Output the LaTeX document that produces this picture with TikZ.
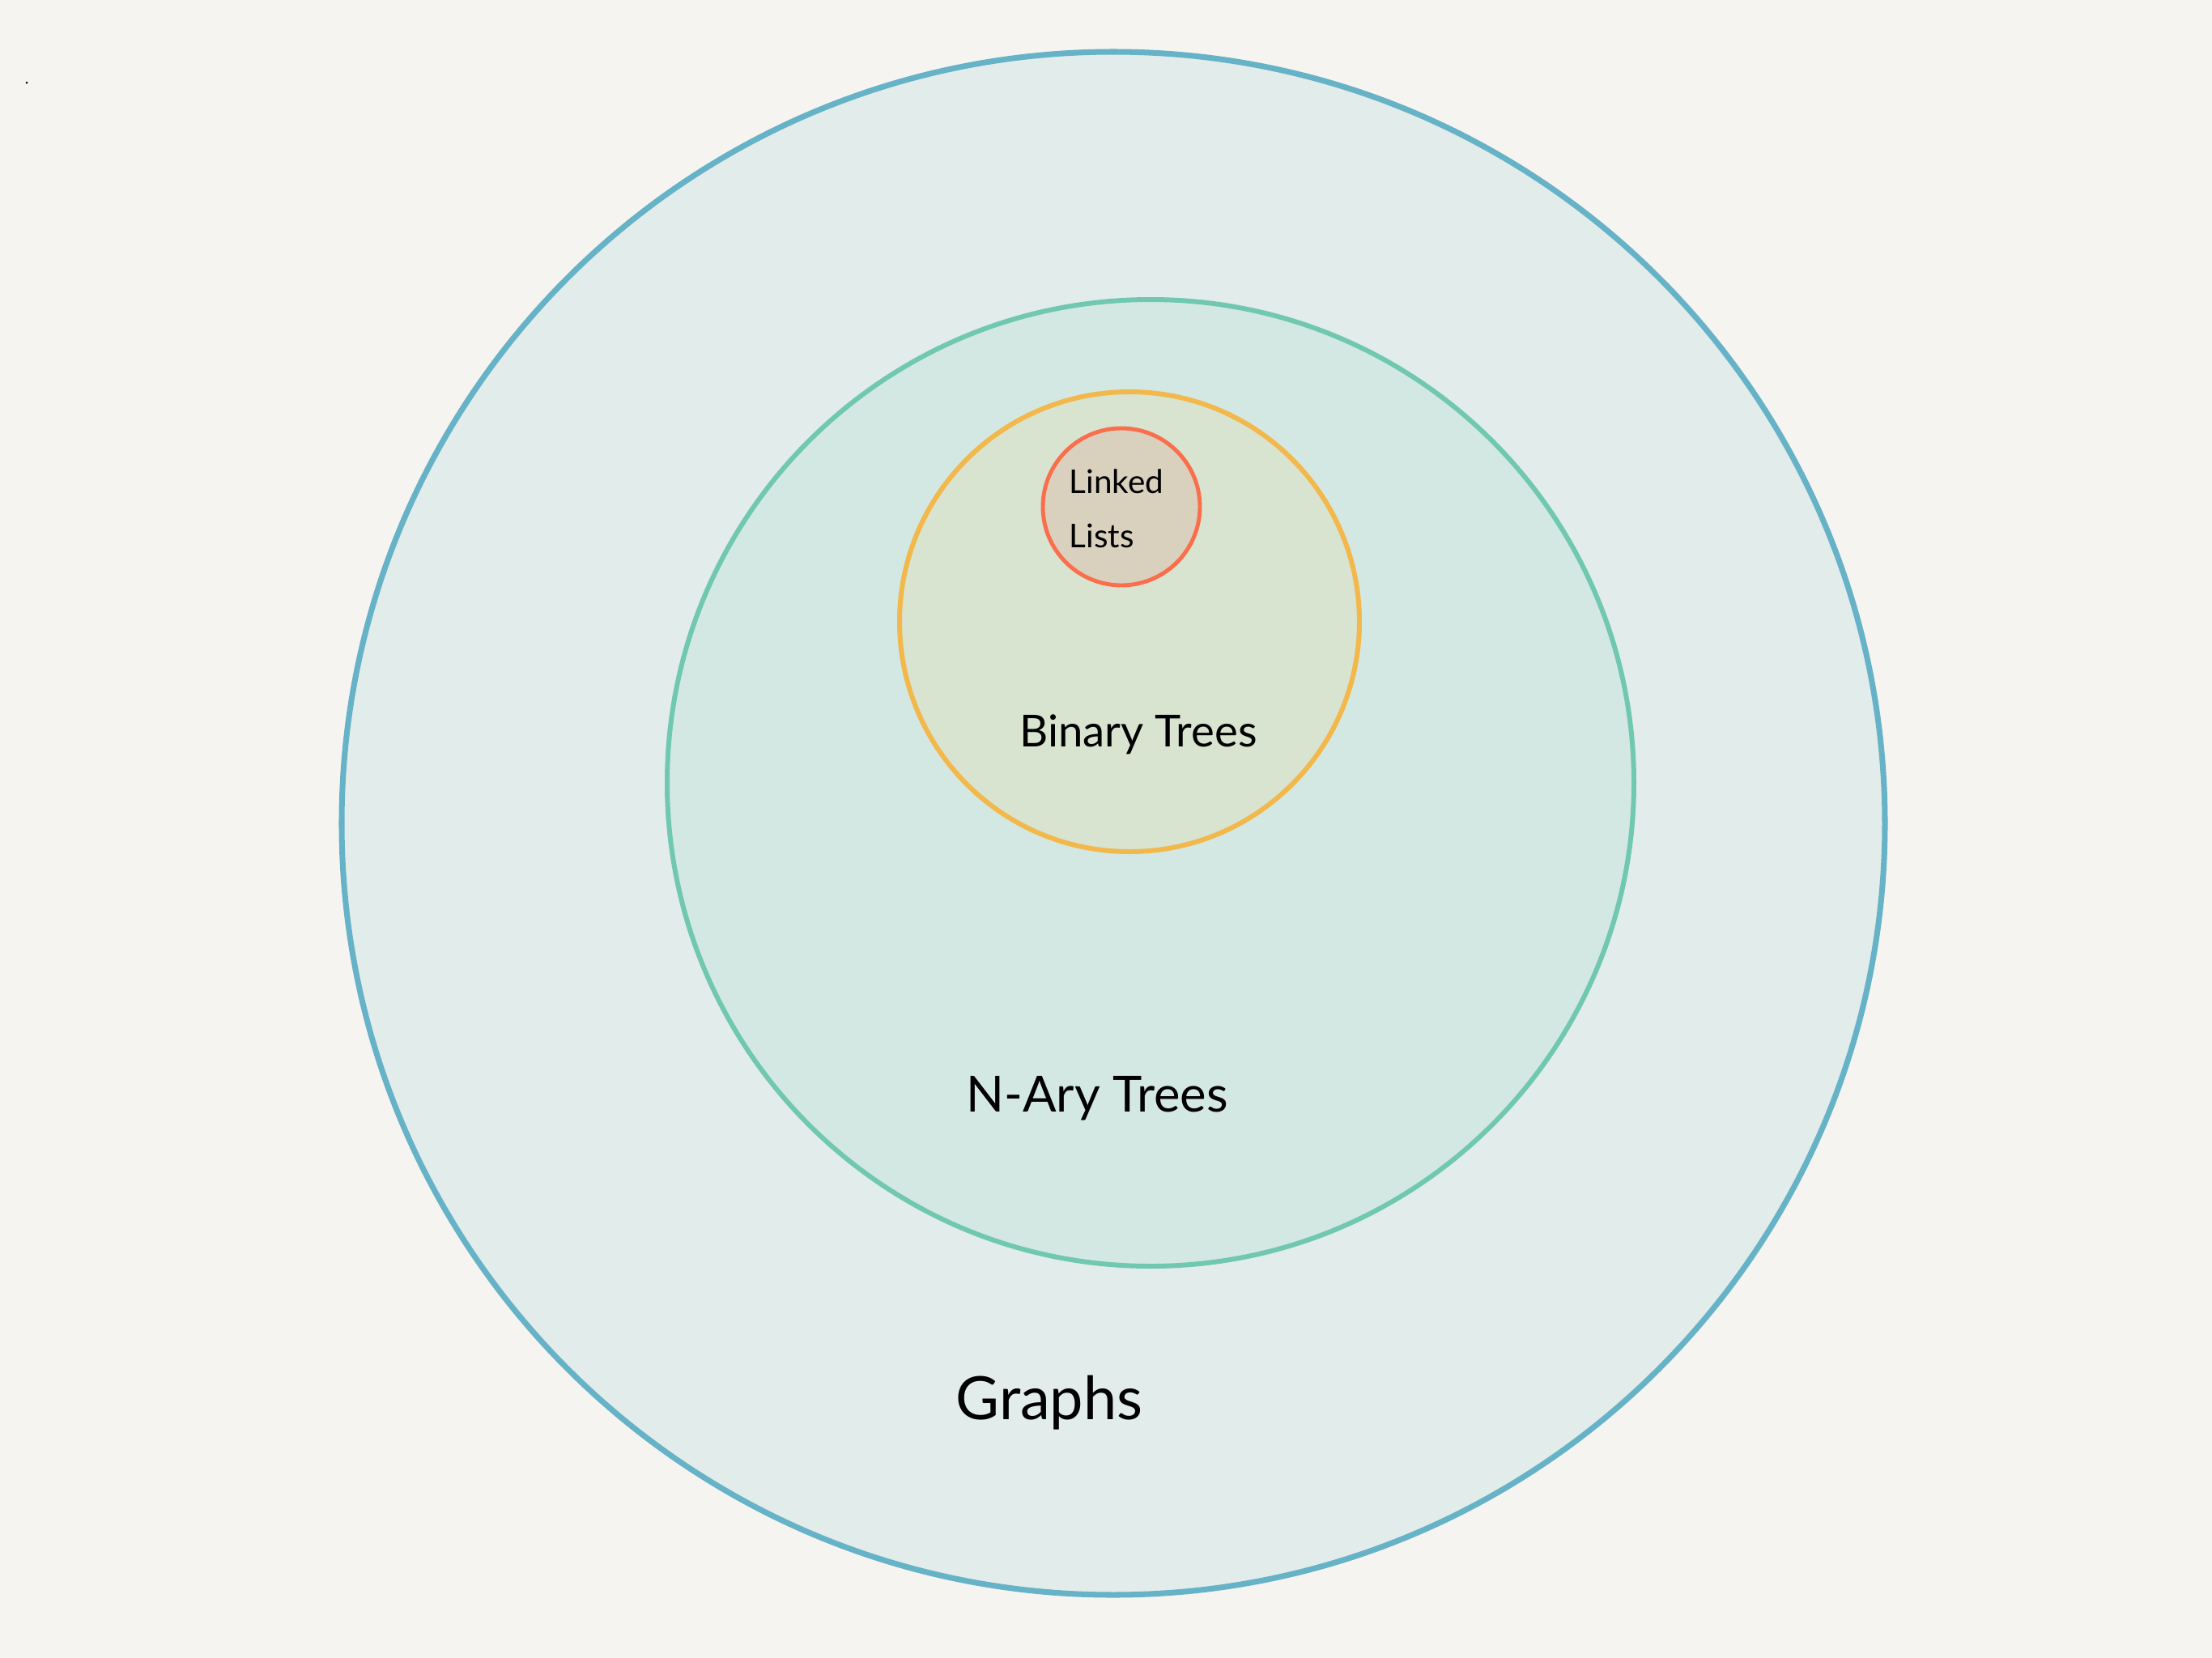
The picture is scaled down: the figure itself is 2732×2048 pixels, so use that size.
\documentclass[tikz,border=0pt]{standalone}
\usepackage{fontspec}
\setmainfont{Lato}

\definecolor{paper}{HTML}{F5F4F0}
\definecolor{graphsfill}{HTML}{E2ECEA}
\definecolor{graphsline}{HTML}{66B2C7}
\definecolor{naryfill}{HTML}{D4E8E3}
\definecolor{naryline}{HTML}{6FC8AF}
\definecolor{binaryfill}{HTML}{D8E3D0}
\definecolor{binaryline}{HTML}{F2B84B}
\definecolor{linkedfill}{HTML}{D9D1BD}
\definecolor{linkedline}{HTML}{FA6E4C}

\begin{document}
\begin{tikzpicture}[x=0.01cm,y=-0.01cm]
    % Page:
    \fill[paper] (0,0) rectangle (2732,2048);
    \useasboundingbox (0,0) rectangle (2732,2048);
    \fill[black] (33,102) circle[radius=1.5];

    % Rings, largest first so each smaller one sits on top:
    \foreach \cx/\cy/\r/\ring/\wd in {
            1375/1017/953/graphs/2pt,
            1421/967/597/nary/1.7pt,
            1395/768/284/binary/1.7pt,
            1385/626/97/linked/1.4pt} {
        \filldraw[
            fill=\ring fill,
            draw=\ring line,
            line width=\wd
            ]
            (\cx,\cy) circle[radius=\r];
    }

    % Labels:
    \begin{scope}[every node/.style={inner sep=0pt,text=black}]
    \node[
        align=left,
        font=\fontsize{11.5}{19}\selectfont
        ]
        (linked) at (1379,628) {Linked\\Lists};
    \node[anchor=base,font=\fontsize{15.5}{19}\selectfont]
        (binary) at (1406,922) {Binary Trees};
    \node[anchor=base,font=\fontsize{17.5}{21}\selectfont]
        (nary) at (1355,1373) {N-Ary Trees};
    \node[anchor=base,font=\fontsize{21}{25}\selectfont]
        (graphs) at (1296,1753) {Graphs};
    \end{scope}
\end{tikzpicture}
\end{document}
